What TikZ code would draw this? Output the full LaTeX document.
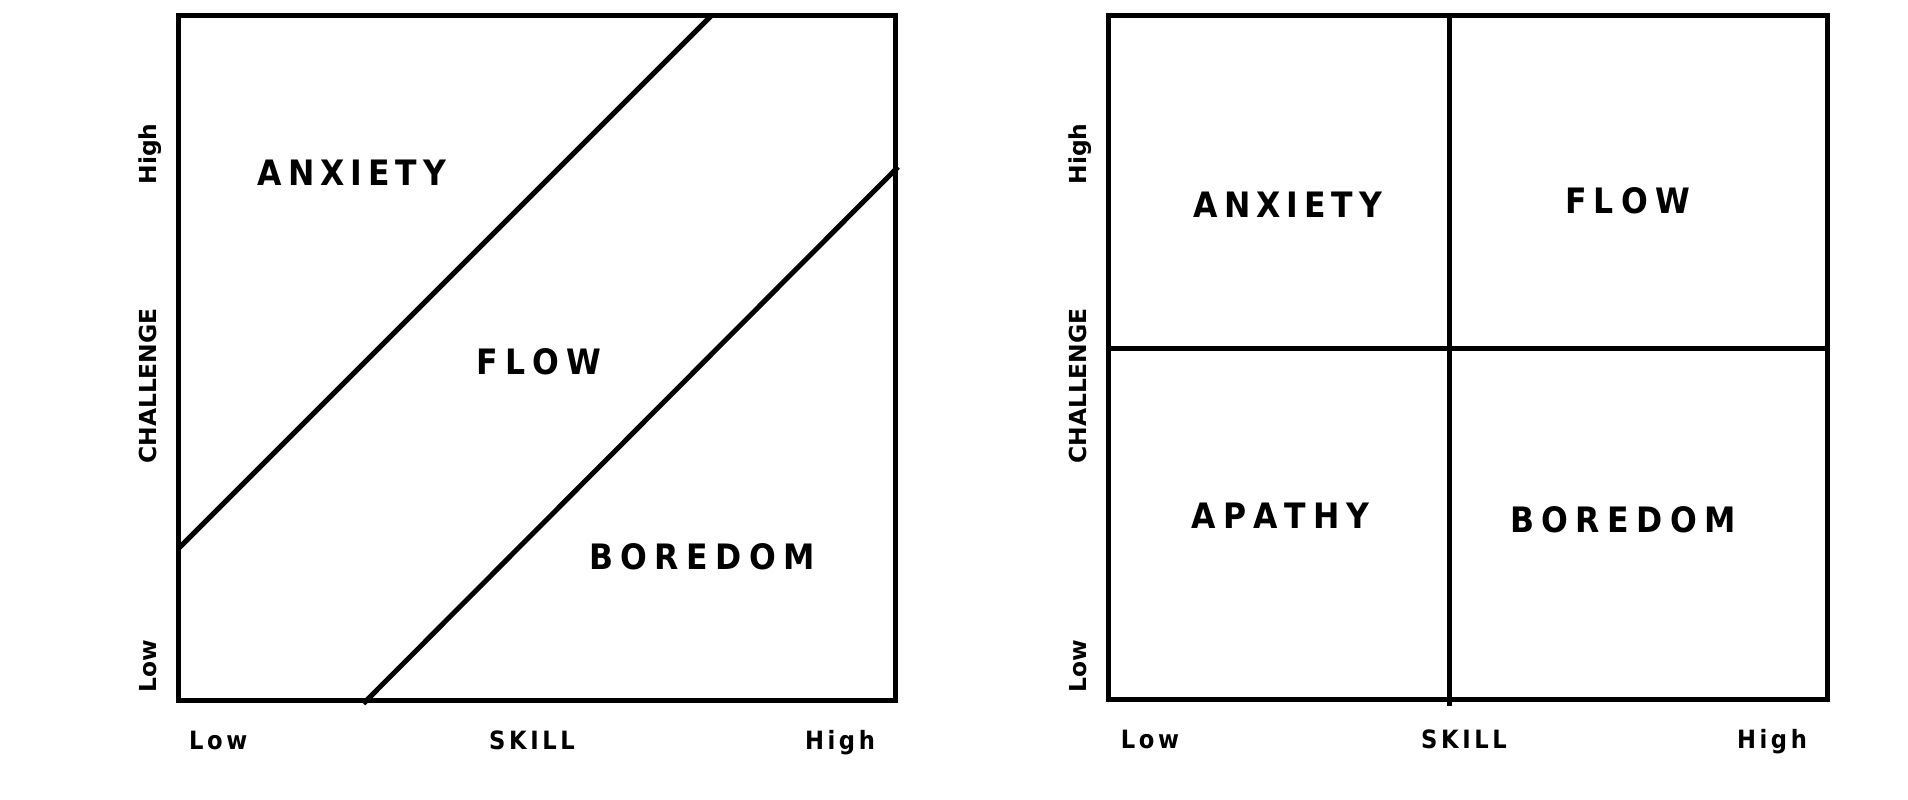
\documentclass[tikz,border=0pt]{standalone}
\usepackage{fontspec}
\newfontfamily\lblfont{DejaVu Sans Bold}[FakeStretch=0.9]
\newfontfamily\ylfont{DejaVu Sans Bold}
\newcommand\spaced[2]{\def\spk{#1}\spA#2\relax}
\def\spA#1{#1\spB}
\def\spB#1{\ifx#1\relax\else\kern\spk#1\expandafter\spB\fi}
\tikzset{
  frame/.style={line width=2.5pt, line join=miter},
  big/.style={font=\lblfont\fontsize{17.5}{20}\selectfont, inner sep=0pt, anchor=base},
  xlab/.style={font=\lblfont\fontsize{12.6}{14}\selectfont, inner sep=0pt, anchor=base},
  ylab/.style={font=\ylfont\fontsize{11.7}{14}\selectfont, inner sep=0pt, anchor=base, rotate=90},
}
\begin{document}
\begin{tikzpicture}[x=0.5pt,y=-0.5pt]
\useasboundingbox (0,0) rectangle (1908,799);
% ---------- left panel ----------
\coordinate (L1) at (178,15);
\coordinate (L2) at (895.5,700);
\draw[frame] (L1) rectangle (L2);
\coordinate (da1) at (178,549);
\coordinate (da2) at (712,15);
\coordinate (db1) at (363.5,703.5);
\coordinate (db2) at (898,167);
\draw[frame] (da1) -- (da2);
\draw[frame] (db1) -- (db2);
\node[big] (lanx) at (352,185.7) {\spaced{3pt}{ANXIETY}};
\node[big] (lflow) at (539.2,374.3) {\spaced{3.6pt}{FLOW}};
\node[big] (lbor) at (702,569.3) {\spaced{3.7pt}{BOREDOM}};
\node[ylab] (lyh) at (156,154) {High};
\node[ylab] (lyc) at (156,386) {CHALLENGE};
\node[ylab] (lyl) at (156,666.3) {Low};
\node[xlab] (lxl) at (218.3,749.3) {\spaced{1.8pt}{Low}};
\node[xlab] (lxs) at (532,749.3) {\spaced{1.8pt}{SKILL}};
\node[xlab] (lxh) at (840,749.3) {\spaced{1.8pt}{High}};
% ---------- right panel ----------
\coordinate (R1) at (1108.5,15);
\coordinate (R2) at (1827.5,699.5);
\draw[frame] (R1) rectangle (R2);
\coordinate (vt) at (1449,15);
\coordinate (vb) at (1449,706);
\coordinate (hl) at (1108.5,348.5);
\coordinate (hr) at (1827.5,348.5);
\draw[frame] (vt) -- (vb);
\draw[frame] (hl) -- (hr);
\node[big] (ranx) at (1288,217.3) {\spaced{3pt}{ANXIETY}};
\node[big] (rflow) at (1627.5,213.3) {\spaced{3.6pt}{FLOW}};
\node[big] (rapa) at (1280.5,528.3) {\spaced{3.5pt}{APATHY}};
\node[big] (rbor) at (1623,532.7) {\spaced{3.7pt}{BOREDOM}};
\node[ylab] (ryh) at (1086.5,154) {High};
\node[ylab] (ryc) at (1086.5,386) {CHALLENGE};
\node[ylab] (ryl) at (1086.5,666.3) {Low};
\node[xlab] (rxl) at (1150,748.5) {\spaced{1.8pt}{Low}};
\node[xlab] (rxs) at (1464,748.5) {\spaced{1.8pt}{SKILL}};
\node[xlab] (rxh) at (1772,748.5) {\spaced{1.8pt}{High}};
\end{tikzpicture}
\end{document}
